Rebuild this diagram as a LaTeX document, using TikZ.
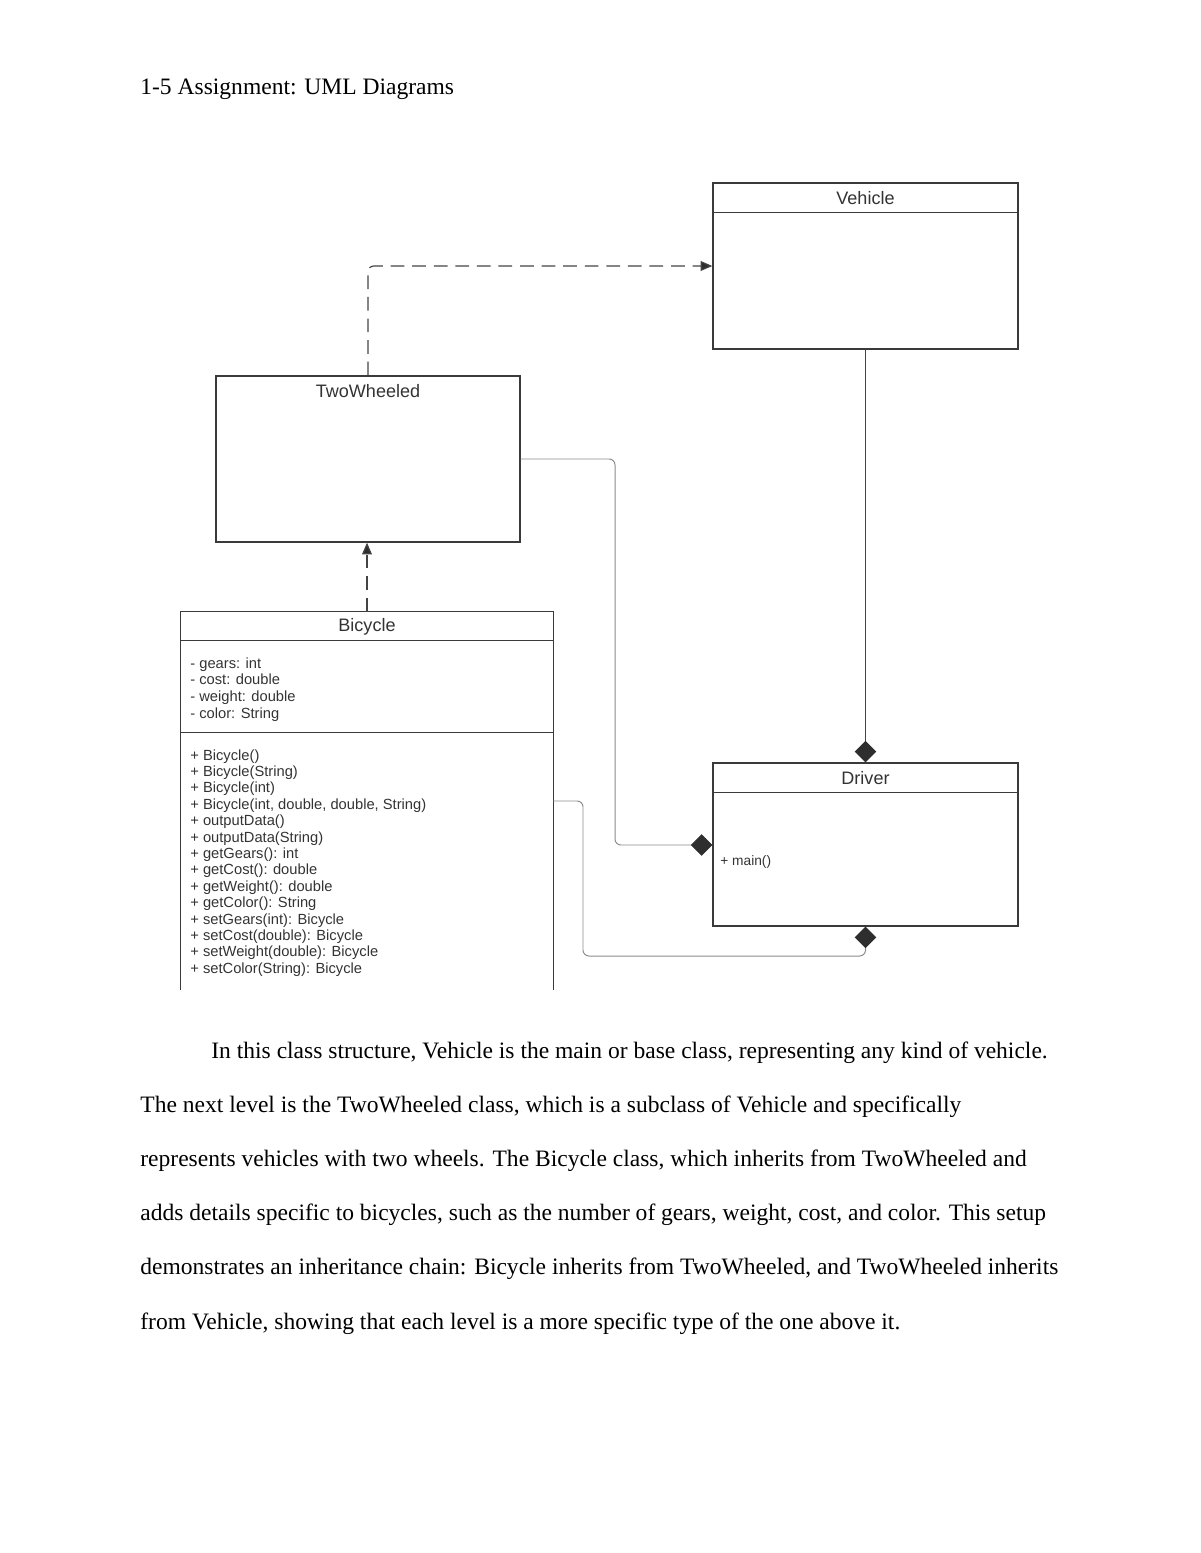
\documentclass[tikz,border=0pt]{standalone}
\usepackage{fontspec}
\setmainfont{Liberation Serif}
\newfontfamily\umlfont{Liberation Sans}
\usetikzlibrary{arrows.meta}
\newcommand\pxu{0.51pt}
\definecolor{boxc}{HTML}{3A3A3A}
\definecolor{txtc}{HTML}{333333}
\definecolor{darkln}{HTML}{444444}
\definecolor{lightln}{HTML}{8A8A8A}
\definecolor{tipc}{HTML}{2E2E2E}
\begin{document}
\begin{tikzpicture}[x=0.51pt,y=-0.51pt,
  box/.style={draw=boxc, line width=0.65pt, inner sep=0pt, rectangle},
  hline/.style={draw=boxc, line width=0.65pt},
  ttl/.style={font=\umlfont\fontsize{9.2}{10}\selectfont, text=txtc, inner sep=0pt},
  mem/.style={font=\umlfont\fontsize{7.5}{9}\selectfont, text=txtc, anchor=base west, inner sep=0pt},
  body/.style={font=\fontsize{12}{14}\selectfont, anchor=base west, inner sep=0pt},
  dep/.style={draw=darkln, line width=0.6pt, dash pattern=on 7pt off 4pt, rounded corners=3pt,
    -{Triangle[length=6pt,width=5pt,fill=tipc]}},
  compd/.style={draw=darkln, line width=0.6pt,
    -{Diamond[length=11pt,width=11pt,fill=tipc,color=tipc]}},
  compl/.style={draw=lightln, line width=0.5pt, rounded corners=3pt,
    -{Diamond[length=11pt,width=11pt,fill=tipc,color=tipc]}}
]
\useasboundingbox (0,0) rectangle (1200,1553);

% title
\node[body] (title) at (140,95) {1-5 Assignment: UML Diagrams};

% Vehicle
\node[box, minimum width=305*\pxu, minimum height=166*\pxu] (veh) at (865.5,266) {};
\draw[hline] ([yshift=-30*\pxu]veh.north west) -- ([yshift=-30*\pxu]veh.north east);
\node[ttl] (vehT) at (865.5,198) {Vehicle};

% TwoWheeled
\node[box, minimum width=304*\pxu, minimum height=166*\pxu] (tw) at (368,459) {};
\node[ttl] (twT) at (368,391) {TwoWheeled};

% Bicycle
\node[inner sep=0pt, minimum width=372*\pxu, minimum height=378*\pxu] (bic) at (367,801) {};
\draw[hline] (bic.south west) -- (bic.north west) -- (bic.north east) -- (bic.south east);
\draw[hline] ([yshift=-29*\pxu]bic.north west) -- ([yshift=-29*\pxu]bic.north east);
\draw[hline] ([yshift=-121*\pxu]bic.north west) -- ([yshift=-121*\pxu]bic.north east);
\node[ttl] (bicT) at (367,627) {Bicycle};

\node[mem] (a1) at (190,668) {- gears: int};
\node[mem] (a2) at (190,684.5) {- cost: double};
\node[mem] (a3) at (190,701) {- weight: double};
\node[mem] (a4) at (190,718) {- color: String};

\node[mem] (m1) at (190,760) {+ Bicycle()};
\node[mem] (m2) at (190,776.4) {+ Bicycle(String)};
\node[mem] (m3) at (190,792.8) {+ Bicycle(int)};
\node[mem] (m4) at (190,809.2) {+ Bicycle(int, double, double, String)};
\node[mem] (m5) at (190,825.6) {+ outputData()};
\node[mem] (m6) at (190,842) {+ outputData(String)};
\node[mem] (m7) at (190,858.4) {+ getGears(): int};
\node[mem] (m8) at (190,874.8) {+ getCost(): double};
\node[mem] (m9) at (190,891.2) {+ getWeight(): double};
\node[mem] (m10) at (190,907.6) {+ getColor(): String};
\node[mem] (m11) at (190,924) {+ setGears(int): Bicycle};
\node[mem] (m12) at (190,940.4) {+ setCost(double): Bicycle};
\node[mem] (m13) at (190,956.8) {+ setWeight(double): Bicycle};
\node[mem] (m14) at (190,973.2) {+ setColor(String): Bicycle};

% Driver
\node[box, minimum width=305*\pxu, minimum height=163*\pxu] (drv) at (865.5,844.5) {};
\draw[hline] ([yshift=-30*\pxu]drv.north west) -- ([yshift=-30*\pxu]drv.north east);
\node[ttl] (drvT) at (865.5,778) {Driver};
\node[mem, font=\umlfont\fontsize{7}{9}\selectfont] (main) at (720,865.5) {+ main()};

% connectors
\draw[dep] (tw.north) |- (veh.west);
\draw[dep] (bic.north) -- (bic.north |- tw.south);
\draw[compd] (veh.south) -- (drv.north);
\coordinate (c1) at (615,845);
\draw[compl] (tw.east) -| (c1) -- (c1 -| drv.west);
\coordinate (c2) at (583,956);
\draw[compl] (bic.east) -| (c2) -| (drv.south);

% body text
\node[body] (p1) at (211,1058) {In this class structure, Vehicle is the main or base class, representing any kind of vehicle.};
\node[body] (p2) at (140,1112) {The next level is the TwoWheeled class, which is a subclass of Vehicle and specifically};
\node[body] (p3) at (140,1166) {represents vehicles with two wheels. The Bicycle class, which inherits from TwoWheeled and};
\node[body] (p4) at (140,1220) {adds details specific to bicycles, such as the number of gears, weight, cost, and color. This setup};
\node[body] (p5) at (140,1274) {demonstrates an inheritance chain: Bicycle inherits from TwoWheeled, and TwoWheeled inherits};
\node[body] (p6) at (140,1329) {from Vehicle, showing that each level is a more specific type of the one above it.};
\end{tikzpicture}
\end{document}
